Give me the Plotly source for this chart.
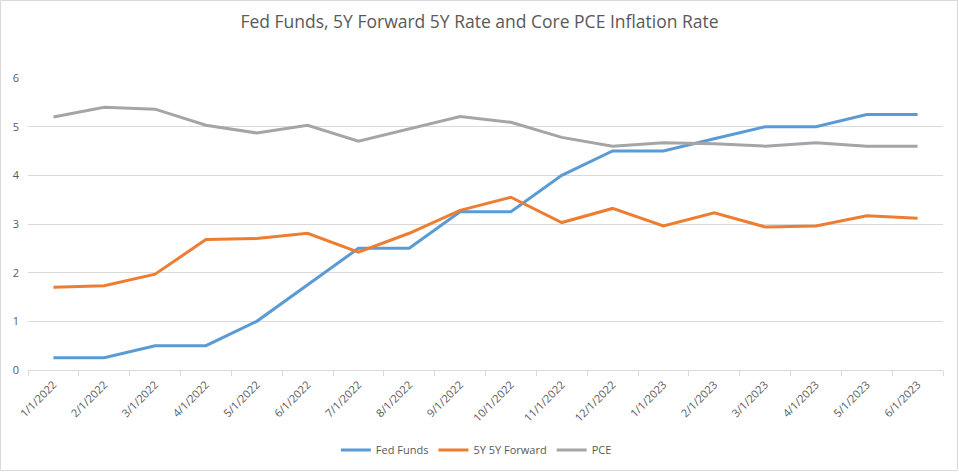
import plotly.graph_objects as go

dates = ["1/1/2022", "2/1/2022", "3/1/2022", "4/1/2022", "5/1/2022", "6/1/2022",
         "7/1/2022", "8/1/2022", "9/1/2022", "10/1/2022", "11/1/2022", "12/1/2022",
         "1/1/2023", "2/1/2023", "3/1/2023", "4/1/2023", "5/1/2023", "6/1/2023"]
fed_funds = [0.25, 0.25, 0.5, 0.5, 1.0, 1.75, 2.5, 2.5, 3.25, 3.25, 4.0, 4.5,
             4.5, 4.75, 5.0, 5.0, 5.25, 5.25]
fwd_5y5y = [1.70, 1.73, 1.97, 2.68, 2.70, 2.81, 2.42, 2.81, 3.28, 3.55, 3.03, 3.32,
            2.96, 3.23, 2.94, 2.96, 3.17, 3.12]
pce = [5.20, 5.40, 5.36, 5.03, 4.87, 5.03, 4.70, 4.95, 5.21, 5.09, 4.78, 4.60,
       4.67, 4.65, 4.60, 4.67, 4.60, 4.60]

W, H = 959, 472
ml, mr, mt, mb = 28, 16, 78, 102
pw, ph = W - ml - mr, H - mt - mb

fig = go.Figure()
for name, vals, color in [("Fed Funds", fed_funds, "#5B9BD5"),
                          ("5Y 5Y Forward", fwd_5y5y, "#ED7D31"),
                          ("PCE", pce, "#A5A5A5")]:
    fig.add_trace(go.Scatter(x=dates, y=vals, mode="lines", name=name,
                             line=dict(color=color, width=3)))

fig.update_layout(
    width=W, height=H,
    margin=dict(l=ml, r=mr, t=mt, b=mb, autoexpand=False),
    paper_bgcolor="white", plot_bgcolor="white",
    font=dict(family="Open Sans", size=11, color="#595959"),
    title=dict(text="Fed Funds, 5Y Forward 5Y Rate and Core PCE Inflation Rate",
               x=0.5, xanchor="center", y=1 - 22 / H, yanchor="middle",
               font=dict(family="Open Sans", size=17.5, color="#595959")),
    showlegend=True,
    legend=dict(orientation="h", x=0.49, xanchor="center",
                y=-(450 - (H - mb)) / ph,
                yanchor="middle", font=dict(size=11, color="#595959"), itemwidth=30),
    xaxis=dict(type="category", range=[-0.5, 17.5], tickangle=-45, automargin=False,
               showgrid=False, showline=True, linecolor="#D9D9D9", linewidth=1,
               ticks="outside", tickson="boundaries", ticklen=5, tickcolor="#D9D9D9",
               ticklabelstandoff=3,
               tickfont=dict(size=11, color="#595959")),
    yaxis=dict(range=[0, 6], dtick=1, showgrid=True, gridcolor="#D9D9D9", gridwidth=1,
               zeroline=False, showline=False, ticks="", ticklabelstandoff=8,
               automargin=False,
               tickfont=dict(size=11, color="#595959")),
)

fig.add_shape(type="rect", xref="paper", yref="paper",
              x0=-(ml - 0.5) / pw, x1=1 + (mr - 1.5) / pw,
              y0=-(mb - 1.5) / ph, y1=1 + (mt - 0.5) / ph,
              line=dict(color="#D9D9D9", width=1), layer="below")

fig.write_html("out.html", config={"displayModeBar": False},
               post_script="document.body.style.margin='0';document.body.style.overflow='hidden';")
